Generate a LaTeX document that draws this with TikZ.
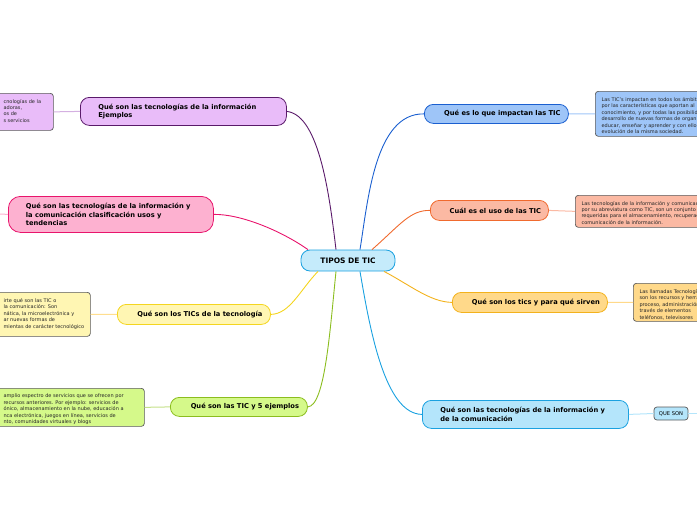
\documentclass[tikz,border=0pt]{standalone}
\usepackage{fontspec}
\setmainfont{DejaVu Sans}
\begin{document}
\begin{tikzpicture}[x=1pt,y=-1pt,
 topic/.style={draw,line width=0.8pt,rounded corners=9pt,font=\fontsize{6.7}{8.2}\selectfont\bfseries,align=left,anchor=north west,inner sep=0pt},
 note/.style={draw=#1,line width=0.7pt,rounded corners=3pt,anchor=north west,inner sep=0pt},
 ntxt/.style={font=\fontsize{5}{6.4}\selectfont,align=left,text=black!85}]
\useasboundingbox (0,0) rectangle (697,520);
\clip (0,0) rectangle (697,520);
\definecolor{xcb}{HTML}{1A5FD0}\definecolor{xco}{HTML}{F06A2E}\definecolor{xcy}{HTML}{F3B21C}
\definecolor{xcc}{HTML}{1AA1E0}\definecolor{xcp}{HTML}{5A1A6A}\definecolor{xcm}{HTML}{E8146C}
\definecolor{xcl}{HTML}{F4D51F}\definecolor{xcg}{HTML}{8BBD1E}
\definecolor{fc}{HTML}{C5EBFB}\definecolor{f1}{HTML}{9EC5F8}\definecolor{f2}{HTML}{FBB9A3}
\definecolor{f3}{HTML}{FFD98A}\definecolor{f4}{HTML}{B4E5FB}\definecolor{g1}{HTML}{E9BCF9}
\definecolor{g2}{HTML}{FDB1D0}\definecolor{g3}{HTML}{FFF6B3}\definecolor{g4}{HTML}{D5F98A}
% center
\node[topic,draw=xcc,fill=fc,minimum width=94pt,minimum height=21pt,align=center,anchor=center,font=\fontsize{7.5}{9}\selectfont\bfseries] (c) at (348,260.5) {TIPOS DE TIC};
% right topics
\node[topic,draw=xcb,fill=f1,minimum width=144pt,minimum height=19pt] (r1) at (424,104) {\hspace{12pt}Qué es lo que impactan las TIC};
\node[topic,draw=xco,fill=f2,minimum width=118pt,minimum height=20pt] (r2) at (430,200) {\hspace{12pt}Cuál es el uso de las TIC};
\node[topic,draw=xcy,fill=f3,minimum width=155pt,minimum height=20pt] (r3) at (452,292) {\hspace{12pt}Qué son los tics y para qué sirven};
\node[topic,draw=xcc,fill=f4,minimum width=206pt,minimum height=28pt] (r4) at (422,400) {\hspace{15pt}\parbox{185pt}{Qué son las tecnologías de la información y\\de la comunicación}};
% left topics
\node[topic,draw=xcp,fill=g1,minimum width=206pt,minimum height=28pt] (l1) at (80,97) {\hspace{15pt}\parbox{185pt}{Qué son las tecnologías de la información\\Ejemplos}};
\node[topic,draw=xcm,fill=g2,minimum width=205pt,minimum height=36pt,rounded corners=12pt] (l2) at (8,196) {\hspace{15pt}\parbox{185pt}{Qué son las tecnologías de la información y\\la comunicación clasificación usos y\\tendencias}};
\node[topic,draw=xcl,fill=g3,minimum width=153pt,minimum height=20pt] (l3) at (117,304) {\hspace{12pt}Qué son los TICs de la tecnología};
\node[topic,draw=xcg,fill=g4,minimum width=137pt,minimum height=19pt] (l4) at (170,397) {\hspace{12pt}Qué son las TIC y 5 ejemplos};
% notes right
\node[note=gray!70!black,fill=f1,minimum width=120pt,minimum height=45pt] (n1) at (595,91) {};
\node[ntxt,anchor=north west] at (598,94) {Las TIC's impactan en todos los ámbitos\\por las características que aportan al\\conocimiento, y por todas las posibilidades\\desarrollo de nuevas formas de organización\\educar, enseñar y aprender y con ello\\evolución de la misma sociedad.};
\node[note=gray!70!black,fill=f2,minimum width=140pt,minimum height=32pt] (n2) at (575,195) {};
\node[ntxt,anchor=north west] at (578,197.5) {Las tecnologías de la información y comunicación\\por su abreviatura como TIC, son un conjunto\\requeridas para el almacenamiento, recuperación\\comunicación de la información.};
\node[note=gray!70!black,fill=f3,minimum width=90pt,minimum height=38pt] (n3) at (633,283) {};
\node[ntxt,anchor=north west] at (636,286) {Las llamadas Tecnologías\\son los recursos y herramientas\\proceso, administración\\través de elementos\\teléfonos, televisores};
\node[note=gray!70!black,fill=f4,minimum width=34pt,minimum height=13pt,font=\fontsize{5.2}{6}\selectfont,anchor=center] (qs) at (671,413.5) {QUE SON};
\coordinate (qe) at (697,413.5);
% notes left
\node[note=gray!70!black,fill=g1,minimum width=73pt,minimum height=37pt] (m1) at (-20,93) {};
\node[ntxt,anchor=north west] at (0,95.5) {cnologías de la\\adoras,\\os de\\s servicios};
\node[note=gray!70!black,fill=g3,minimum width=110pt,minimum height=44pt] (m3) at (-20,292) {};
\node[ntxt,anchor=north west] at (0,295) {irte qué son las TIC o\\la comunicación: Son\\nática, la microelectrónica y\\ar nuevas formas de\\mientas de carácter tecnológico};
\node[note=gray!70!black,fill=g4,minimum width=164pt,minimum height=38pt] (m4) at (-20,388) {};
\node[ntxt,anchor=north west] at (0,390.5) {amplio espectro de servicios que se ofrecen por\\recursos anteriores. Por ejemplo: servicios de\\ónico, almacenamiento en la nube, educación a\\nca electrónica, juegos en línea, servicios de\\nto, comunidades virtuales y blogs};
% connectors
\begin{scope}[line width=0.9pt]
\draw[xcb] ([xshift=12pt]c.north) .. controls (368,200) and (375,113) .. (r1.west);
\draw[xco] ([xshift=24pt]c.north) .. controls (400,225) and (410,210) .. (r2.west);
\draw[xcy] ([xshift=36pt]c.south) .. controls (410,285) and (430,302) .. (r3.west);
\draw[xcc] ([xshift=12pt]c.south) .. controls (370,330) and (385,414) .. (r4.west);
\draw[xcp] ([xshift=-12pt]c.north) .. controls (330,200) and (320,115) .. (l1.east);
\draw[xcm] ([xshift=-40pt]c.north) .. controls (280,230) and (240,214) .. (l2.east);
\draw[xcl] ([xshift=-30pt]c.south) .. controls (300,290) and (290,314) .. (l3.east);
\draw[xcg] ([xshift=-12pt]c.south) .. controls (330,330) and (325,406) .. (l4.east);
\end{scope}
\begin{scope}[line width=1pt]
\draw[g1!80!gray] (l1.west) -- (m1.east);
\draw[g2] (l2.west) -- (0,214);
\draw[g3!80!orange] (l3.west) -- (m3.east);
\draw[g4!80!gray] (l4.west) -- (m4.east);
\draw[f1] (r1.east) -- (n1.west);
\draw[f2] (r2.east) -- (n2.west);
\draw[f3] (r3.east) -- (n3.west);
\draw[f4] (r4.east) -- (qs.west);
\draw[f4] (qs.east) -- (qe);
\end{scope}
\end{tikzpicture}
\end{document}
